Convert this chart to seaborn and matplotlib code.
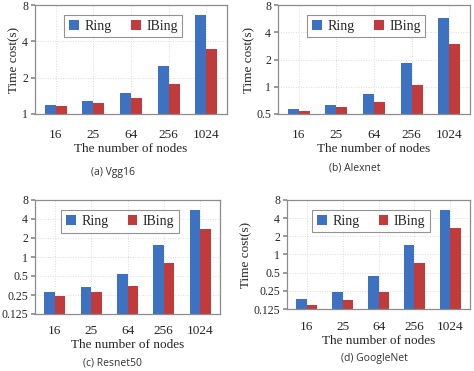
import pandas as pd
import seaborn as sb
import matplotlib.pyplot as plt
from matplotlib.ticker import FixedLocator, FixedFormatter, NullLocator

nodes = ["16", "25", "64", "256", "1024"]
methods = ["Ring", "IBing"]

vgg16_ring = [1.19, 1.28, 1.50, 2.49, 6.55]
vgg16_ibing = [1.16, 1.24, 1.35, 1.78, 3.45]
alexnet_ring = [0.57, 0.63, 0.83, 1.82, 5.74]
alexnet_ibing = [0.535, 0.59, 0.67, 1.05, 2.93]
resnet50_ring = [0.279, 0.335, 0.538, 1.55, 5.62]
resnet50_ibing = [0.241, 0.279, 0.351, 0.795, 2.81]
googlenet_ring = [0.181, 0.237, 0.436, 1.43, 5.39]
googlenet_ibing = [0.144, 0.176, 0.237, 0.727, 2.71]

panels = [
    ("(a) Vgg16", vgg16_ring, vgg16_ibing, [1, 2, 4, 8], ["1", "2", "4", "8"]),
    ("(b) Alexnet", alexnet_ring, alexnet_ibing, [0.5, 1, 2, 4, 8], ["0.5", "1", "2", "4", "8"]),
    ("(c) Resnet50", resnet50_ring, resnet50_ibing, [0.125, 0.25, 0.5, 1, 2, 4, 8],
     ["0.125", "0.25", "0.5", "1", "2", "4", "8"]),
    ("(d) GoogleNet", googlenet_ring, googlenet_ibing, [0.125, 0.25, 0.5, 1, 2, 4, 8],
     ["0.125", "0.25", "0.5", "1", "2", "4", "8"]),
]

W, H = 474, 371
# axes boxes in pixels: left, top, right, bottom
boxes = [(35, 5, 227, 114), (278, 5, 470, 114), (35, 200, 220, 314), (287, 200, 470, 309)]
# caption centres in pixels
caption_pos = [(113, 172), (355, 168), (112, 363), (374, 358)]
xtick_pads = [8, 8, 5, 6]

palette = {"Ring": "#3d71c1", "IBing": "#c23b3b"}
edge = "#8c8c8c"

sb.set_theme(style="white")
plt.rcParams["font.family"] = ["Liberation Serif", "DejaVu Serif"]

fig = plt.figure(figsize=(W / 100, H / 100), dpi=100)

for (caption, ring, ibing, yticks, ylabels), box, cpos, xpad in zip(panels, boxes, caption_pos, xtick_pads):
    df = pd.DataFrame({
        "nodes": nodes * 2,
        "method": ["Ring"] * len(nodes) + ["IBing"] * len(nodes),
        "cost": ring + ibing,
    })
    l, t, r, b = box
    ax = fig.add_axes([l / W, 1 - b / H, (r - l) / W, (b - t) / H])
    sb.barplot(data=df, x="nodes", y="cost", hue="method", hue_order=methods,
               palette=palette, width=0.58, saturation=1, ax=ax, linewidth=0)
    ax.set_yscale("log", base=2)
    ax.set_ylim(yticks[0], yticks[-1])
    ax.set_xlim(-0.55, 4.55)
    ax.yaxis.set_major_locator(FixedLocator(yticks))
    ax.yaxis.set_major_formatter(FixedFormatter(ylabels))
    ax.yaxis.set_minor_locator(NullLocator())
    ax.grid(True, which="major", linestyle=(0, (1, 2)), color="#d0d0d0", linewidth=0.6)
    ax.set_axisbelow(True)
    for sp in ax.spines.values():
        sp.set_color(edge)
        sp.set_linewidth(0.9)
    ax.tick_params(axis="both", length=3, color=edge)
    ax.tick_params(axis="x", labelsize=9.5, pad=xpad)
    ax.tick_params(axis="y", labelsize=8.5, pad=2, left=True, direction="out")
    ax.set_xlabel("The number of nodes", fontsize=9.5, labelpad=1)
    ax.set_ylabel("Time cost(s)", fontsize=9.5, labelpad=1)
    leg = ax.legend(loc="upper center", bbox_to_anchor=(0.46, 0.975), ncol=2,
                    fontsize=10, frameon=True, fancybox=False, handlelength=0.7,
                    handleheight=0.7, handletextpad=0.4, columnspacing=1.4,
                    borderpad=0.35)
    leg.get_frame().set_edgecolor("#777777")
    leg.get_frame().set_linewidth(0.8)
    fig.text(cpos[0] / W, 1 - cpos[1] / H, caption, ha="center", va="center",
             fontsize=7.5, family=["Open Sans", "DejaVu Sans"], color="#333333")

plt.savefig("out.png", dpi=100)
